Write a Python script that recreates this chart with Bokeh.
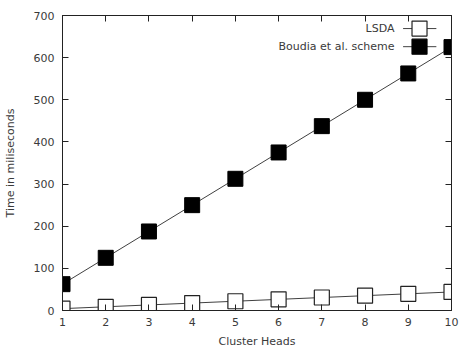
from bokeh.plotting import figure
from bokeh.models import LinearAxis, Range1d, FixedTicker
from bokeh.core.properties import value
from bokeh.embed import file_html
from bokeh.resources import INLINE

cluster_heads = [1, 2, 3, 4, 5, 6, 7, 8, 9, 10]
lsda = [4.4, 8.8, 13.2, 17.6, 22, 26.4, 30.8, 35.2, 39.6, 44]
boudia = [62.5, 125, 187.5, 250, 312.5, 375, 437.5, 500, 562.5, 625]
series_names = ["LSDA", "Boudia et al. scheme"]
y_ticks = [0, 100, 200, 300, 400, 500, 600, 700]

FONT = "DejaVu Sans"
TXT = "#3a3a3a"
LINE = "#404040"

p = figure(width=474, height=355, output_backend="svg", toolbar_location=None,
           x_range=Range1d(1, 10), y_range=Range1d(0, 700),
           min_border_left=62, min_border_right=23, min_border_top=15, min_border_bottom=45)
p.outline_line_color = "#222222"
p.outline_line_width = 1
p.xgrid.visible = False
p.ygrid.visible = False
p.background_fill_color = "white"
p.border_fill_color = "white"

def style(ax, labels=True):
    ax.major_tick_in = 6
    ax.major_tick_out = 0
    ax.minor_tick_in = 0
    ax.minor_tick_out = 0
    ax.axis_line_color = "#222222"
    ax.major_tick_line_color = "#222222"
    ax.major_label_text_font = FONT
    ax.major_label_text_font_size = "11px"
    ax.major_label_text_color = TXT if labels else None
    ax.axis_label_text_font = FONT
    ax.axis_label_text_font_size = "11px"
    ax.axis_label_text_font_style = "normal"
    ax.axis_label_text_color = TXT

p.xaxis.ticker = FixedTicker(ticks=cluster_heads)
p.yaxis.ticker = FixedTicker(ticks=y_ticks)
p.xaxis.axis_label = "Cluster Heads"
p.yaxis.axis_label = "Time in miliseconds"
style(p.xaxis[0])
style(p.yaxis[0])
p.xaxis.major_label_standoff = 7
p.yaxis.major_label_standoff = 8
p.xaxis.axis_label_standoff = 6
p.yaxis.axis_label_standoff = 14

top = LinearAxis(ticker=FixedTicker(ticks=cluster_heads))
style(top, labels=False)
top.major_label_text_font_size = "0px"
p.add_layout(top, "above")
right = LinearAxis(ticker=FixedTicker(ticks=y_ticks))
style(right, labels=False)
right.major_label_text_font_size = "0px"
p.add_layout(right, "right")

# data series
p.line(cluster_heads, lsda, line_color=LINE, line_width=1)
p.scatter(cluster_heads, lsda, marker="square", size=15, fill_color="white",
          line_color="#222222", line_width=1.2)
p.line(cluster_heads, boudia, line_color=LINE, line_width=1)
p.scatter(cluster_heads, boudia, marker="square", size=15, fill_color="black",
          line_color="black")

# legend (text right-aligned, sample to its right)
leg_y = [669, 626]
leg_fill = ["white", "black"]
p.text(x=[8.68, 8.68], y=leg_y, text=series_names, text_align="right",
       text_baseline="middle", text_font=value(FONT), text_font_size="11px",
       text_color=TXT)
for yy, fc in zip(leg_y, leg_fill):
    p.line([8.88, 9.65], [yy, yy], line_color=LINE, line_width=1)
    p.scatter([9.26], [yy], marker="square", size=15, fill_color=fc,
              line_color="#222222" if fc == "white" else "black", line_width=1.2)

open("out.html", "w").write(file_html(p, INLINE))
